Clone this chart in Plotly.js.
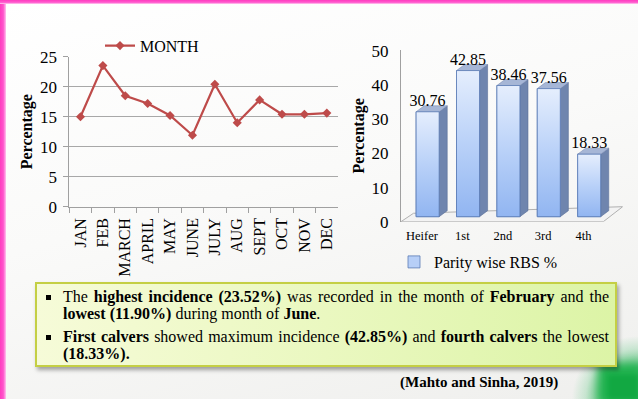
<!DOCTYPE html>
<html>
<head>
<meta charset="utf-8">
<script src="https://cdn.plot.ly/plotly-3.0.1.min.js"></script>
<style>
  html, body { margin: 0; padding: 0; }
  body {
    width: 638px; height: 399px; overflow: hidden; position: relative;
    background: linear-gradient(165deg, #ffffff 0%, #fafaf9 45%, #efefed 100%);
    font-family: "Liberation Serif", "DejaVu Serif", serif;
  }
  #pinkLeft { position: absolute; left: 0; top: 0; width: 6px; height: 399px;
    background: linear-gradient(90deg, #ff3cbf 0%, #ff55cc 55%, #ffc4ee 100%); z-index: 3; }
  #pinkTop { position: absolute; left: 0; top: 0; width: 638px; height: 4px;
    background: linear-gradient(180deg, #ff3cbf 0%, #ff5ccf 60%, #ffd0f2 100%); z-index: 3; }
  #greenSoft { position: absolute; left: 572px; top: 336px; width: 66px; height: 63px;
    background: radial-gradient(66px 63px at 100% 100%, rgba(30,178,80,0.9) 0%, rgba(30,178,80,0.7) 50%, rgba(80,195,120,0.25) 80%, rgba(120,210,150,0) 100%);
    z-index: 0; }
  #greenMid { position: absolute; left: 598px; top: 364px; width: 45px; height: 40px;
    background: #1fb24e; filter: blur(5px); z-index: 0; }
  #greenHard { position: absolute; left: 608px; top: 375px; width: 30px; height: 24px;
    background: #12a842; filter: blur(2px); z-index: 0; }
  #chart { position: absolute; left: 0; top: 0; z-index: 1; }
  #box { position: absolute; left: 35px; top: 282px; width: 582px; height: 85px; box-sizing: border-box;
    border: 2px solid #c4cf44;
    background: linear-gradient(90deg, #f6fbd8 0%, #eaf8c0 50%, #dcf4a6 100%);
    box-shadow: 2px 3px 4px rgba(0,0,0,0.35); z-index: 2; }
  .para { position: absolute; left: 63px; width: 546px; font-size: 16px; line-height: 17px;
    text-align: justify; color: #000; z-index: 4; }
  .para::before { content: ""; position: absolute; left: -17px; top: 7px; width: 5px; height: 5px; background: #000; }
  #p1 { top: 288.4px; }
  #p2 { top: 327.6px; }
  #cite { position: absolute; left: 400px; top: 374px; font-size: 15px; line-height: 17px; font-weight: bold; z-index: 4; }
</style>
</head>
<body>
<div id="pinkLeft"></div>
<div id="pinkTop"></div>
<div id="greenSoft"></div>
<div id="greenMid"></div>
<div id="greenHard"></div>
<div id="chart"></div>
<div id="box"></div>
<div class="para" id="p1">The <b>highest incidence (23.52%)</b> was recorded in the month of <b>February</b> and the <b>lowest (11.90%)</b> during month of <b>June</b>.</div>
<div class="para" id="p2"><b>First calvers</b> showed maximum incidence <b>(42.85%)</b> and <b>fourth calvers</b> the lowest <b>(18.33%).</b></div>
<div id="cite">(Mahto and Sinha, 2019)</div>
<script>
// ---- data ----
const months = ['JAN','FEB','MARCH','APRIL','MAY','JUNE','JULY','AUG','SEPT','OCT','NOV','DEC'];
const monthPct = [15.0, 23.52, 18.5, 17.2, 15.2, 11.9, 20.4, 14.0, 17.8, 15.4, 15.4, 15.6];
const parity = ['Heifer','1st','2nd','3rd','4th'];
const parityPct = [30.76, 42.85, 38.46, 37.56, 18.33];
const leftTicks = [0, 5, 10, 15, 20, 25];
const rightTicks = [0, 10, 20, 30, 40, 50];

// ---- style / geometry ----
const FONT = 'Liberation Serif, DejaVu Serif, serif';
const barW = 0.57, depthX = 0.2, depthY = 1.76, labelShift = 0.14, tickOffset = 1.466, labelDrop = 1.2;
const idx = parity.map((_, i) => i);

const traces = [];
traces.push({
  type: 'scatter', mode: 'lines+markers', name: 'MONTH', x: months, y: monthPct,
  xaxis: 'x', yaxis: 'y', legend: 'legend',
  line: { color: '#be4b4a', width: 2.2 },
  marker: { symbol: 'diamond', size: 7, color: '#be4b4a' },
  hoverinfo: 'skip'
});
traces.push({
  type: 'bar', name: 'Parity wise RBS %', x: idx, y: parityPct, width: barW,
  xaxis: 'x2', yaxis: 'y2', legend: 'legend2',
  marker: { color: '#b7cff7', line: { color: '#5a7bb5', width: 0.8 } },
  hoverinfo: 'skip'
});
// side and top faces
const sx = [], sy = [], tx = [], ty = [];
idx.forEach((i, k) => {
  const v = parityPct[k], r = i + barW / 2, l = i - barW / 2;
  sx.push(r, r + depthX, r + depthX, r, r, null);
  sy.push(0, depthY, v + depthY, v, 0, null);
  tx.push(l, r, r + depthX, l + depthX, l, null);
  ty.push(v, v, v + depthY, v + depthY, v, null);
});
traces.push({ type: 'scatter', mode: 'lines', x: sx, y: sy, xaxis: 'x2', yaxis: 'y2', fill: 'toself',
  fillcolor: '#6f85ae', line: { color: '#5d7199', width: 0.6 }, showlegend: false, hoverinfo: 'skip' });
traces.push({ type: 'scatter', mode: 'lines', x: tx, y: ty, xaxis: 'x2', yaxis: 'y2', fill: 'toself',
  fillcolor: '#a6b6d6', line: { color: '#7d8fb5', width: 0.6 }, showlegend: false, hoverinfo: 'skip' });
// front faces with gradient
idx.forEach((i, k) => {
  const v = parityPct[k], l = i - barW / 2, r = i + barW / 2;
  traces.push({ type: 'scatter', mode: 'lines', x: [l, r, r, l, l], y: [0, 0, v, v, 0],
    xaxis: 'x2', yaxis: 'y2', fill: 'toself', fillcolor: '#b7cff7',
    fillgradient: { type: 'vertical', colorscale: [[0, '#91b5f1'], [0.5, '#b9d1f8'], [1, '#e5eefd']] },
    line: { color: '#5a7bb5', width: 0.8 }, showlegend: false, hoverinfo: 'skip' });
});
// data labels
traces.push({ type: 'scatter', mode: 'text', x: idx, y: parityPct.map(v => v + depthY - labelDrop),
  text: parityPct.map(v => v.toFixed(2)), textposition: 'top center',
  textfont: { family: FONT, size: 16, color: '#000' }, xaxis: 'x2', yaxis: 'y2',
  showlegend: false, hoverinfo: 'skip', cliponaxis: false });

const layout = {
  width: 638, height: 399, margin: { l: 0, r: 0, t: 0, b: 0 },
  paper_bgcolor: 'rgba(0,0,0,0)', plot_bgcolor: 'rgba(0,0,0,0)',
  font: { family: FONT, color: '#000' },
  showlegend: true,
  xaxis: {
    domain: [0.1086, 0.5298], type: 'category', range: [-0.5, 11.5], anchor: 'y',
    showline: true, linecolor: '#a0a0a0', linewidth: 1, ticks: 'outside', tickson: 'boundaries',
    ticklen: 5, tickcolor: '#a0a0a0', tickangle: -90, tickfont: { family: FONT, size: 16, color: '#000' },
    showgrid: false, zeroline: false, ticklabelstandoff: 4
  },
  yaxis: {
    domain: [0.4820, 0.8579], range: [0, 25], tickvals: leftTicks, anchor: 'x',
    showgrid: true, gridcolor: '#a8a8a8', gridwidth: 1, showline: true, linecolor: '#a0a0a0',
    ticks: 'outside', ticklen: 5, tickcolor: '#a0a0a0', zeroline: false,
    tickfont: { family: FONT, size: 17, color: '#000' }, ticklabelstandoff: 3,
    title: { text: '<b>Percentage</b>', font: { family: FONT, size: 16, color: '#000' }, standoff: 3 }
  },
  xaxis2: {
    domain: [0.6285, 0.976], range: [-0.66, 4.83], anchor: 'y2',
    tickvals: idx.map(i => i - labelShift), ticktext: parity, ticks: '',
    showline: false, showgrid: false, zeroline: false,
    tickfont: { family: FONT, size: 12.5, color: '#000' }, ticklabelstandoff: 5
  },
  yaxis2: {
    domain: [0.4444, 0.8747], range: [-tickOffset, 48.88], anchor: 'x2',
    tickvals: rightTicks.map(t => t - tickOffset), ticktext: rightTicks.map(String),
    showline: true, linecolor: '#a0a0a0', ticks: '', showgrid: false, zeroline: false,
    tickfont: { family: FONT, size: 17, color: '#000' }, ticklabelstandoff: 8,
    title: { text: '<b>Percentage</b>', font: { family: FONT, size: 16, color: '#000' }, standoff: 2 }
  },
  legend: { x: 100 / 638, y: (399 - 45.7) / 399, xanchor: 'left', yanchor: 'middle',
    bgcolor: 'rgba(0,0,0,0)', borderwidth: 0, font: { family: FONT, size: 16, color: '#000' } },
  legend2: { x: 394 / 638, y: (399 - 262) / 399, xanchor: 'left', yanchor: 'middle',
    bgcolor: 'rgba(0,0,0,0)', borderwidth: 0, font: { family: FONT, size: 16, color: '#000' } },
  shapes: [{
    type: 'path', xref: 'x2', yref: 'y2', layer: 'below',
    path: 'M-0.66,-1.466 L4.35,-1.466 L4.83,2.93 L-0.35,1.0 Z',
    fillcolor: '#f3f3f3', line: { color: '#b0b0b0', width: 1 }
  }]
};

Plotly.newPlot('chart', traces, layout, { staticPlot: true, displayModeBar: false });
</script>
</body>
</html>
